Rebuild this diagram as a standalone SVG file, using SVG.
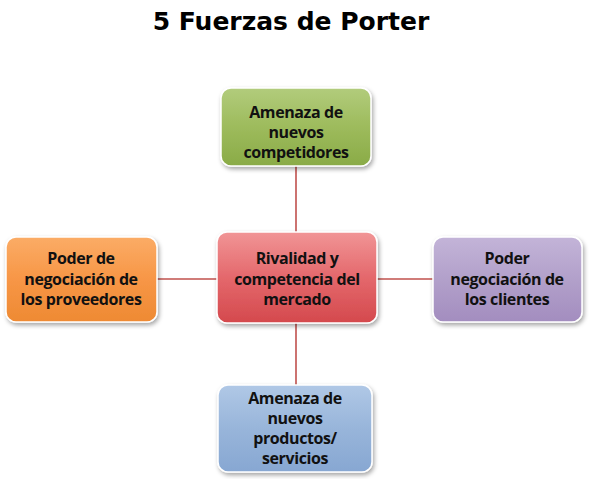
<svg xmlns="http://www.w3.org/2000/svg" width="591" height="479" viewBox="0 0 591 479">
<defs>
<style>
.box{stroke:#ffffff;stroke-width:1.5;filter:url(#sh)}
.t{font-family:"Open Sans","Noto Sans",sans-serif;font-weight:700;font-size:16px;letter-spacing:-0.4px;fill:#111;text-anchor:middle}
.title{font-family:"DejaVu Sans",Verdana,sans-serif;font-weight:700;font-size:25px;fill:#000;text-anchor:middle}
.conn{stroke:#c0504d;stroke-width:1.6;fill:none}
</style>
<filter id="sh" x="-10%" y="-10%" width="125%" height="130%">
<feDropShadow dx="1.5" dy="2.5" stdDeviation="2" flood-color="#000" flood-opacity="0.35"/>
</filter>
<linearGradient id="gG" x1="0" y1="0" x2="0" y2="1"><stop offset="0" stop-color="#b2cc7c"/><stop offset="0.5" stop-color="#9dbb5c"/><stop offset="1" stop-color="#8aab47"/></linearGradient>
<linearGradient id="gR" x1="0" y1="0" x2="0" y2="1"><stop offset="0" stop-color="#f19596"/><stop offset="0.5" stop-color="#e4686c"/><stop offset="1" stop-color="#d4494d"/></linearGradient>
<linearGradient id="gO" x1="0" y1="0" x2="0" y2="1"><stop offset="0" stop-color="#fbac66"/><stop offset="0.5" stop-color="#f79646"/><stop offset="1" stop-color="#ee8a33"/></linearGradient>
<linearGradient id="gP" x1="0" y1="0" x2="0" y2="1"><stop offset="0" stop-color="#c3b4d8"/><stop offset="0.5" stop-color="#b2a0ca"/><stop offset="1" stop-color="#a38dbf"/></linearGradient>
<linearGradient id="gB" x1="0" y1="0" x2="0" y2="1"><stop offset="0" stop-color="#b0c8e6"/><stop offset="0.5" stop-color="#98b5da"/><stop offset="1" stop-color="#87a7d2"/></linearGradient>
</defs>
<rect width="591" height="479" fill="#ffffff"/>
<text class="title" x="291" y="30">5 Fuerzas de Porter</text>
<g id="connectors">
<line class="conn" x1="296" y1="166" x2="296" y2="232"/>
<line class="conn" x1="296" y1="323" x2="296" y2="385"/>
<line class="conn" x1="157" y1="279" x2="217" y2="279"/>
<line class="conn" x1="377" y1="279" x2="433" y2="279"/>
</g>
<g id="top">
<rect class="box" x="221" y="88" width="150" height="78" rx="10" fill="url(#gG)"/>
<text class="t" x="296" y="118">Amenaza de</text>
<text class="t" x="296" y="138">nuevos</text>
<text class="t" x="296" y="158">competidores</text>
</g>
<g id="center">
<rect class="box" x="217" y="232" width="160" height="91" rx="10" fill="url(#gR)"/>
<text class="t" x="297" y="264">Rivalidad y</text>
<text class="t" x="297" y="285">competencia del</text>
<text class="t" x="297" y="305">mercado</text>
</g>
<g id="left">
<rect class="box" x="6" y="237" width="151" height="85" rx="10" fill="url(#gO)"/>
<text class="t" x="81" y="264">Poder de</text>
<text class="t" x="81" y="285">negociación de</text>
<text class="t" x="81" y="305">los proveedores</text>
</g>
<g id="right">
<rect class="box" x="433" y="237" width="149" height="85" rx="10" fill="url(#gP)"/>
<text class="t" x="507" y="264">Poder</text>
<text class="t" x="507" y="285">negociación de</text>
<text class="t" x="507" y="305">los clientes</text>
</g>
<g id="bottom">
<rect class="box" x="218" y="385" width="154" height="87" rx="10" fill="url(#gB)"/>
<text class="t" x="295" y="404">Amenaza de</text>
<text class="t" x="295" y="424">nuevos</text>
<text class="t" x="295" y="444">productos/</text>
<text class="t" x="295" y="464">servicios</text>
</g>
</svg>
